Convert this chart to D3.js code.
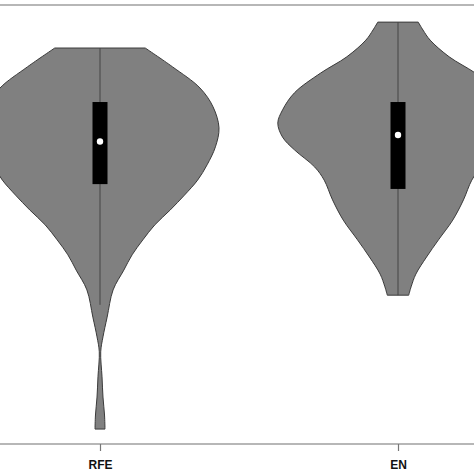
<!DOCTYPE html>
<html>
<head>
<meta charset="utf-8">
<script src="https://cdn.jsdelivr.net/npm/d3@7"></script>
<style>
  body { margin: 0; background: #fff; }
  svg { display: block; }
  .axis text { font-family: "Liberation Sans", Arial, sans-serif; font-weight: bold; font-size: 12px; fill: #111; }
  .axis line { stroke: #777; }
</style>
</head>
<body>
<svg width="474" height="474"></svg>
<script>
// categories
var groups = ["RFE", "EN"];

// density profile per group: value along y, relative density
var rfeVals = [0.902, 0.859, 0.811, 0.768, 0.720, 0.677, 0.636, 0.601, 0.567, 0.533, 0.499,
               0.465, 0.431, 0.396, 0.351, 0.289, 0.244, 0.210, 0.153, 0.107, 0.066, 0.034];
var rfeDens = [0.38, 0.61, 0.84, 0.95, 1.00, 0.97, 0.90, 0.82, 0.71, 0.59, 0.46,
               0.36, 0.27, 0.20, 0.11, 0.06, 0.025, 0.006, 0.017, 0.025, 0.038, 0.042];

var enVals = [0.961, 0.943, 0.920, 0.882, 0.845, 0.800, 0.761, 0.731, 0.699, 0.670,
              0.631, 0.601, 0.556, 0.510, 0.465, 0.426, 0.387, 0.358, 0.339];
var enDens = [0.17, 0.21, 0.27, 0.43, 0.65, 0.87, 0.97, 1.01, 0.97, 0.87,
              0.70, 0.62, 0.55, 0.46, 0.34, 0.24, 0.15, 0.11, 0.09];

// box stats: [whisker low, q1, median, q3, whisker high]
var rfeStats = [0.317, 0.592, 0.689, 0.779, 0.902];
var enStats = [0.339, 0.581, 0.704, 0.779, 0.961];

var svg = d3.select("svg");
var plot = {top: 5, bottom: 444};

var x = d3.scalePoint().domain(groups).range([100, 398]);
var y = d3.scaleLinear().domain([0, 1]).range([plot.bottom, plot.top]);
var w = d3.scaleLinear().domain([0, 1]).range([0, 119]);

var violins = [
  {name: "RFE", vals: rfeVals, dens: rfeDens, stats: rfeStats},
  {name: "EN", vals: enVals, dens: enDens, stats: enStats}
];

// frame (left/right sides fall outside the crop)
svg.append("rect")
  .attr("x", -30).attr("y", plot.top)
  .attr("width", 534).attr("height", plot.bottom - plot.top)
  .attr("fill", "none").attr("stroke", "#888").attr("stroke-width", 1.2);

violins.forEach(function(v) {
  var cx = x(v.name);
  var pts = v.vals.map(function(d, i) { return {v: d, d: v.dens[i]}; });

  var area = d3.area()
    .y(function(p) { return y(p.v); })
    .x0(function(p) { return cx - w(p.d); })
    .x1(function(p) { return cx + w(p.d); })
    .curve(d3.curveCatmullRom);

  svg.append("path")
    .datum(pts)
    .attr("d", area)
    .attr("fill", "#808080")
    .attr("stroke", "#3a3a3a")
    .attr("stroke-width", 1);

  // whisker
  svg.append("line")
    .attr("x1", cx).attr("x2", cx)
    .attr("y1", y(v.stats[0])).attr("y2", y(v.stats[4]))
    .attr("stroke", "#444").attr("stroke-width", 1);

  // box
  svg.append("rect")
    .attr("x", cx - 7.5).attr("width", 15)
    .attr("y", y(v.stats[3]))
    .attr("height", y(v.stats[1]) - y(v.stats[3]))
    .attr("fill", "#000");

  // median
  svg.append("circle")
    .attr("cx", cx).attr("cy", y(v.stats[2]))
    .attr("r", 3.2).attr("fill", "#fff");
});

var xAxis = svg.append("g")
  .attr("class", "axis")
  .attr("transform", "translate(0," + plot.bottom + ")")
  .call(d3.axisBottom(x).tickSize(7).tickSizeOuter(0).tickPadding(9));
xAxis.select(".domain").remove();
xAxis.selectAll(".tick line").attr("stroke-width", 1.2);
</script>
</body>
</html>
